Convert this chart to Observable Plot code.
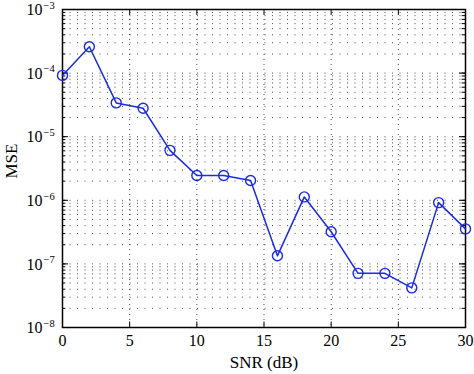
<!DOCTYPE html>
<html>
<head>
<meta charset="utf-8">
<script src="https://cdn.jsdelivr.net/npm/d3@7"></script>
<script src="https://cdn.jsdelivr.net/npm/@observablehq/plot@0.6"></script>
<style>
  html, body { margin: 0; padding: 0; background: #fff; }
  svg { display: block; }
</style>
</head>
<body>
<div id="chart"></div>
<script>
const snr = [0, 2, 4, 6, 8, 10, 12, 14, 16, 18, 20, 22, 24, 26, 28, 30];
const mse = [9.2e-5, 2.6e-4, 3.4e-5, 2.8e-5, 6.1e-6, 2.45e-6, 2.45e-6, 2.05e-6,
             1.34e-7, 1.13e-6, 3.2e-7, 7.1e-8, 7.1e-8, 4.2e-8, 9.2e-7, 3.55e-7];
const xTicks = [0, 5, 10, 15, 20, 25, 30];
const xGrid = [5, 10, 15, 20, 25];
const yTicks = [1e-8, 1e-7, 1e-6, 1e-5, 1e-4, 1e-3];
const yExponents = ["\u22128", "\u22127", "\u22126", "\u22125", "\u22124", "\u22123"];
const mantissas = [1, 2, 3, 4, 5, 6, 7, 8, 9];
const decades = [1e-8, 1e-7, 1e-6, 1e-5, 1e-4];

const yMinor = decades.flatMap(d => mantissas.map(m => m * d)).concat([1e-3]);
const data = snr.map((s, i) => ({snr: s, mse: mse[i]}));
const yLab = yTicks.map((v, i) => ({v, e: yExponents[i]}));
const font = "'Liberation Serif', 'Times New Roman', serif";
const blue = "#1a2be0";

const chart = Plot.plot({
  width: 474,
  height: 374,
  marginLeft: 62,
  marginRight: 9,
  marginTop: 9,
  marginBottom: 47,
  style: {fontFamily: font, fontSize: "16px", background: "#fff", color: "#000"},
  x: {domain: [0, 30], ticks: xTicks, label: null},
  y: {type: "log", domain: [1e-8, 1e-3], label: null, axis: null},
  marks: [
    // grid
    Plot.ruleY(yMinor, {y: d => d, stroke: "#000", strokeOpacity: 0.7, strokeWidth: 1, strokeDasharray: "1,6.5"}),
    Plot.ruleX(xGrid, {x: d => d, stroke: "#000", strokeOpacity: 0.7, strokeWidth: 1, strokeDasharray: "1,4"}),
    // inward ticks
    Plot.ruleY(yMinor, {y: d => d, x1: 0, x2: 0.25, stroke: "#000", strokeWidth: 1}),
    Plot.ruleY(yMinor, {y: d => d, x1: 29.75, x2: 30, stroke: "#000", strokeWidth: 1}),
    Plot.ruleY(yTicks, {y: d => d, x1: 0, x2: 0.45, stroke: "#000", strokeWidth: 1}),
    Plot.ruleY(yTicks, {y: d => d, x1: 29.55, x2: 30, stroke: "#000", strokeWidth: 1}),
    Plot.ruleX(xTicks, {x: d => d, y1: 1e-8, y2: 1.22e-8, stroke: "#000", strokeWidth: 1}),
    Plot.ruleX(xTicks, {x: d => d, y1: 1e-3, y2: 0.82e-3, stroke: "#000", strokeWidth: 1}),
    Plot.frame({stroke: "#000", strokeWidth: 1.5}),
    // x axis labels
    Plot.axisX({ticks: xTicks, tickSize: 0, tickPadding: 7, fontSize: 16, label: null, tickFormat: d => String(d)}),
    // y axis labels 10^k
    Plot.text(yLab, {x: () => 0, y: "v", dx: -20, dy: 0.5, text: () => "10", textAnchor: "end", fontSize: 16}),
    Plot.text(yLab, {x: () => 0, y: "v", dx: -19, dy: -4, text: "e", textAnchor: "start", fontSize: 10.5}),
    // axis titles
    Plot.text(["SNR (dB)"], {frameAnchor: "bottom", dy: 40, text: d => d, fontSize: 17}),
    Plot.text(["MSE"], {frameAnchor: "left", dx: -51, dy: 10, rotate: -90, text: d => d, fontSize: 17}),
    // data
    Plot.line(data, {x: "snr", y: "mse", stroke: blue, strokeWidth: 1.5}),
    Plot.dot(data, {x: "snr", y: "mse", r: 5, stroke: blue, strokeWidth: 1.4, fill: "none"})
  ]
});
document.getElementById("chart").appendChild(chart);
</script>
</body>
</html>
